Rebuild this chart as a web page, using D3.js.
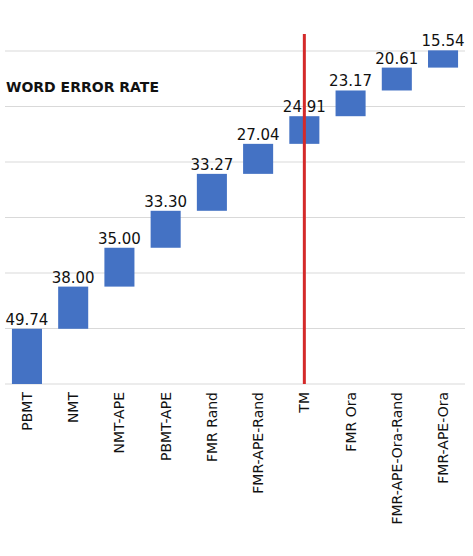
<!DOCTYPE html>
<html><head><meta charset="utf-8">
<script src="https://cdn.jsdelivr.net/npm/d3@7"></script>
<style>body{margin:0;background:#fff;font-family:"DejaVu Sans",Verdana,sans-serif}</style>
</head><body><svg id="c" width="473" height="556"></svg>
<script>
// categories and WER values (waterfall: each bar starts where the previous ends)
const systems = ['PBMT','NMT','NMT-APE','PBMT-APE','FMR Rand','FMR-APE-Rand','TM','FMR Ora','FMR-APE-Ora-Rand','FMR-APE-Ora'];
const wer = [49.74, 38.00, 35.00, 33.30, 33.27, 27.04, 24.91, 23.17, 20.61, 15.54];
const gridTicks = [0, 50, 100, 150, 200, 250, 300];
const markerSystem = 'TM';

const svg = d3.select('#c');
const x = d3.scaleBand().domain(systems).range([5, 465]).paddingInner(0.35).paddingOuter(0.15);
const y = d3.scaleLinear().domain([0, 300]).range([384, 51]);

let acc = 0;
const bars = systems.map((s, i) => { const b = {s, v: wer[i], y0: acc, y1: acc + wer[i]}; acc += wer[i]; return b; });

svg.append('g').selectAll('line').data(gridTicks).join('line')
  .attr('x1', 5).attr('x2', 465).attr('y1', d => y(d)).attr('y2', d => y(d))
  .attr('stroke', '#d9d9d9').attr('stroke-width', 1);

svg.append('g').selectAll('rect').data(bars).join('rect')
  .attr('x', d => x(d.s)).attr('width', x.bandwidth())
  .attr('y', d => y(d.y1)).attr('height', d => y(d.y0) - y(d.y1))
  .attr('fill', '#4472c4');

svg.append('g').selectAll('text').data(bars).join('text')
  .attr('x', d => x(d.s) + x.bandwidth() / 2).attr('y', d => y(d.y1) - 4)
  .attr('text-anchor', 'middle').attr('font-size', 15).attr('fill', '#111')
  .text(d => d.v.toFixed(2));

const mx = x(markerSystem) + x.bandwidth() / 2;
svg.append('line').attr('x1', mx).attr('x2', mx).attr('y1', 34).attr('y2', 384)
  .attr('stroke', '#d42a2a').attr('stroke-width', 3);

svg.append('g').selectAll('text').data(systems).join('text')
  .attr('transform', d => `translate(${x(d) + x.bandwidth() / 2 + 5},392) rotate(-90)`)
  .attr('text-anchor', 'end').attr('font-size', 14).attr('fill', '#111')
  .text(d => d);

svg.append('text').attr('x', 6).attr('y', 92).attr('font-size', 14).attr('font-weight', 'bold')
  .attr('fill', '#111').text('WORD ERROR RATE');
</script></body></html>
